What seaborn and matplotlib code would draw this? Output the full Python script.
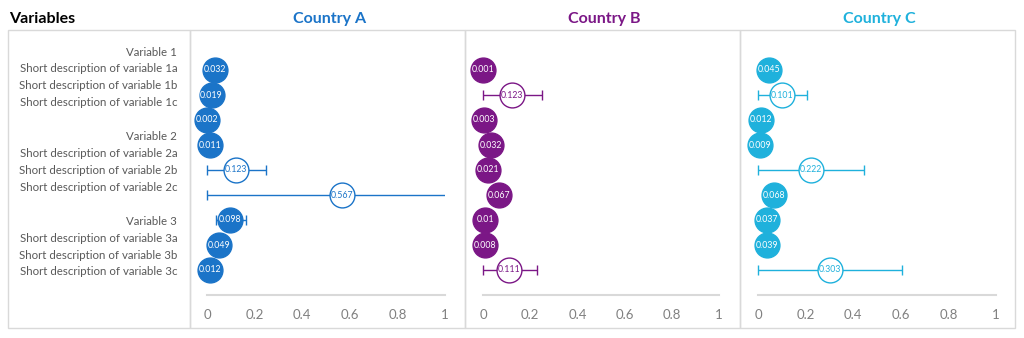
import matplotlib
matplotlib.use("Agg")
import matplotlib.pyplot as plt
from matplotlib.patches import Rectangle
import seaborn as sns
import pandas as pd
import numpy as np

sns.set_theme(style="white")
plt.rcParams['font.family'] = ['Lato', 'DejaVu Sans']

# ---------------- data ----------------
row_labels = [
    "Variable 1", "Short description of variable 1a", "Short description of variable 1b",
    "Short description of variable 1c", "",
    "Variable 2", "Short description of variable 2a", "Short description of variable 2b",
    "Short description of variable 2c", "",
    "Variable 3", "Short description of variable 3a", "Short description of variable 3b",
    "Short description of variable 3c",
]
items = ["1a", "1b", "1c", "2a", "2b", "2c", "3a", "3b", "3c"]
countries = ["Country A", "Country B", "Country C"]
colors = ["#1B74C8", "#7B1786", "#1FB1DC"]

vals_a = [0.032, 0.019, 0.002, 0.011, 0.123, 0.567, 0.098, 0.049, 0.012]
lo_a = [None, None, None, None, 0.0, 0.0, 0.038, None, None]
hi_a = [None, None, None, None, 0.247, 1.134, 0.162, None, None]
sig_a = [True, True, True, True, False, False, True, True, True]

vals_b = [0.001, 0.123, 0.003, 0.032, 0.021, 0.067, 0.01, 0.008, 0.111]
lo_b = [None, 0.0, None, None, None, None, None, None, 0.0]
hi_b = [None, 0.25, None, None, None, None, None, None, 0.227]
sig_b = [True, False, True, True, True, True, True, True, False]

vals_c = [0.045, 0.101, 0.012, 0.009, 0.222, 0.068, 0.037, 0.039, 0.303]
lo_c = [None, 0.0, None, None, 0.0, None, None, None, 0.0]
hi_c = [None, 0.205, None, None, 0.445, None, None, None, 0.607]
sig_c = [True, False, True, True, False, True, True, True, False]

xticks = [0, 0.2, 0.4, 0.6, 0.8, 1]
xtick_labels = ["0", "0.2", "0.4", "0.6", "0.8", "1"]

series = [(vals_a, lo_a, hi_a, sig_a), (vals_b, lo_b, hi_b, sig_b), (vals_c, lo_c, hi_c, sig_c)]

# ---------------- figure ----------------
W, H = 1024, 338
fig = plt.figure(figsize=(W / 100, H / 100), dpi=100)
fig.patch.set_facecolor("white")

def fx(px):
    return px / W

def fy(py):
    return 1 - py / H

box_color = "#D9D9D9"
boxes = [(8, 190), (190, 465), (465, 740), (740, 1015)]
for (x0, x1) in boxes:
    fig.patches.append(Rectangle((fx(x0), fy(328)), fx(x1) - fx(x0), fy(30) - fy(328),
                                 transform=fig.transFigure, fill=False,
                                 edgecolor=box_color, linewidth=1.0, zorder=0))

fig.text(fx(9), fy(19), "Variables", fontsize=11.5, fontweight="bold",
         color="black", ha="left", va="center")

# label column
lab_ax = fig.add_axes([fx(8), fy(328), fx(182), fy(30) - fy(328)])
lab_ax.set_axis_off()
lab_ax.set_xlim(0, 1)
n_lines = len(row_labels)
lab_ax.set_ylim(n_lines - 1 + (328 - 272) / 16.92, -(52 - 30) / 16.92)
for i, t in enumerate(row_labels):
    lab_ax.text(0.93, i, t, ha="right", va="center", fontsize=8.3, color="#595959")

# panel axes
axes_px = [(207, 445), (483, 719), (758, 996)]
for k, ((x0, x1), name, col, (vals, lo, hi, sig)) in enumerate(zip(axes_px, countries, colors, series)):
    ax = fig.add_axes([fx(x0), fy(295), fx(x1) - fx(x0), fy(45) - fy(295)])
    df = pd.DataFrame({"item": items, "pos": np.arange(len(items)), "value": vals,
                       "lo": lo, "hi": hi, "sig": sig})
    clip_rect = Rectangle((-0.05, -0.1), 1.05, 1.2, transform=ax.transAxes,
                          visible=False)
    ax.add_patch(clip_rect)
    eb = df[df["lo"].notna()]
    for _, r in eb.iterrows():
        cont = ax.errorbar(r["value"], r["pos"],
                           xerr=[[r["value"] - r["lo"]], [r["hi"] - r["value"]]],
                           fmt="none", ecolor=col, elinewidth=1.0, capsize=3.5,
                           capthick=1.0, zorder=2)
        for art in cont.get_children():
            art.set_clip_path(clip_rect)
    filled = df[df["sig"]]
    hollow = df[~df["sig"]]
    sns.scatterplot(data=filled, x="value", y="pos", ax=ax, s=320, color=col,
                    edgecolor=col, linewidth=1, zorder=3, clip_on=False, legend=False)
    sns.scatterplot(data=hollow, x="value", y="pos", ax=ax, s=320, facecolor="white",
                    edgecolor=col, linewidth=1, zorder=3, clip_on=False, legend=False)
    for _, r in df.iterrows():
        lab = f"{r['value']:g}"
        ax.text(r["value"], r["pos"], lab, ha="center", va="center", fontsize=6.3,
                color="white" if r["sig"] else col, zorder=4, clip_on=False)
    ax.set_xlim(0, 1)
    ax.set_ylim(len(items), -1)
    ax.set_xticks(xticks)
    ax.set_xticklabels(xtick_labels)
    ax.set_yticks([])
    ax.set_xlabel("")
    ax.set_ylabel("")
    ax.patch.set_alpha(0)
    for s in ["top", "left", "right"]:
        ax.spines[s].set_visible(False)
    ax.spines["bottom"].set_color("#D9D9D9")
    ax.spines["bottom"].set_linewidth(1.5)
    ax.tick_params(axis="x", length=0, pad=10, labelsize=9.5, labelcolor="#808080")
    bx0, bx1 = boxes[k + 1]
    fig.text((fx(bx0) + fx(bx1)) / 2 + fx(2), fy(19), name, fontsize=11.5,
             fontweight="bold", color=col, ha="center", va="center")

fig.savefig("out.png", dpi=100, facecolor="white")
